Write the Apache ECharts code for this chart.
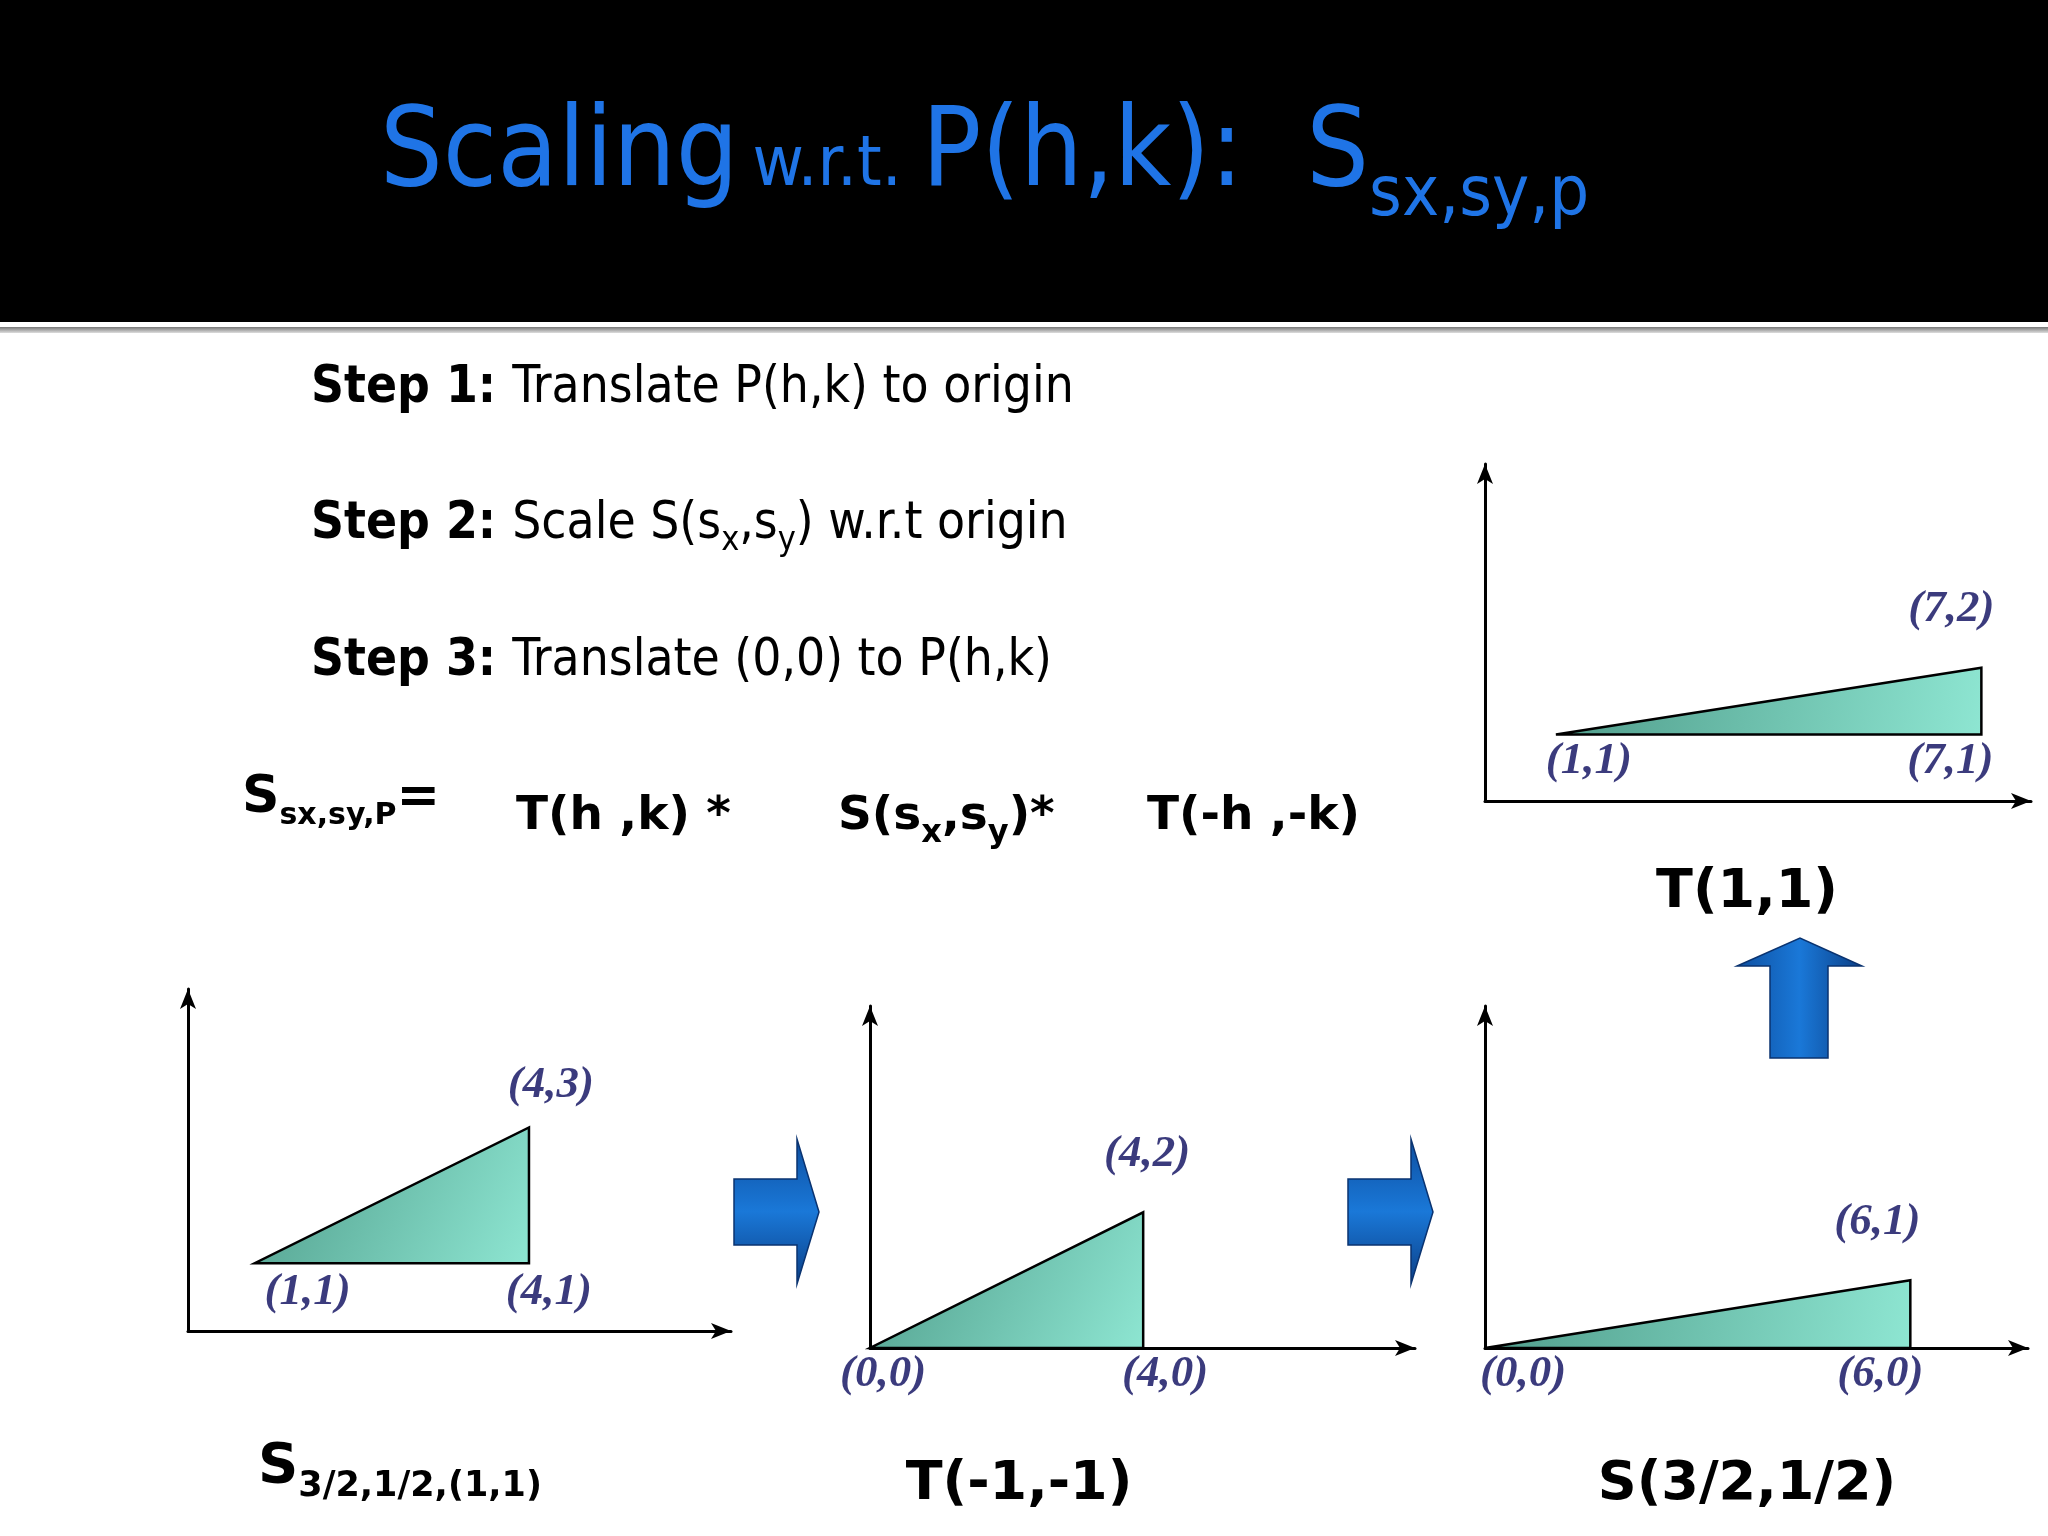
<!DOCTYPE html>
<html><head><meta charset="utf-8">
<script src="https://cdn.jsdelivr.net/npm/echarts@6/dist/echarts.min.js"></script>
<style>html,body{margin:0;padding:0;background:#fff}#c{width:2048px;height:1536px}</style>
</head><body><div id="c"></div>
<script>
// ---- data ----
const triOriginal = [[1,1],[4,1],[4,3]];
const triTranslated = [[0,0],[4,0],[4,2]];
const triScaled = [[0,0],[6,0],[6,1]];
const triFinal = [[1,1],[7,1],[7,2]];
const labelsOriginal = ['(1,1)','(4,1)','(4,3)'];
const labelsTranslated = ['(0,0)','(4,0)','(4,2)'];
const labelsScaled = ['(0,0)','(6,0)','(6,1)'];
const labelsFinal = ['(1,1)','(7,1)','(7,2)'];
const captions = ['T(-1,-1)','S(3/2,1/2)','T(1,1)'];

// ---- styles/layout ----
const grids = [
  {left:188, top:989, width:543, height:342},
  {left:870, top:1006, width:545, height:342},
  {left:1485, top:1006, width:543, height:342},
  {left:1485, top:464, width:546, height:337}
];
const axRanges = [[0.27,6.21,0,5.04],[0,7.98,0,5.04],[0,7.66,0,5.04],[0,7.7,0,5.06]];
const lblOffsets = [
  [[53,29],[20,29],[22,-42]],
  [[13,26],[22,26],[4,-58]],
  [[38,26],[-30,26],[-33,-58]],
  [[33,27],[-31,27],[-30,-58]]
];
const tris=[triOriginal,triTranslated,triScaled,triFinal];
const lbls=[labelsOriginal,labelsTranslated,labelsScaled,labelsFinal];

const ASC=0.76;
const ctx=document.createElement('canvas').getContext('2d');
function runs(x,y,items,g){
  let cx=x;
  items.forEach(r=>{
    const font=`${r.style||'normal'} ${r.weight||'normal'} ${r.size}px ${r.family}`;
    ctx.font=font;
    g.push({type:'text',x:cx,y:y+(r.dy||0)-ASC*r.size,style:{text:r.t,font:font,fill:r.color||'#000',textAlign:'left'}});
    cx+=ctx.measureText(r.t).width+(r.gap||0);
  });
}
const G=[];
G.push({type:'rect',shape:{x:0,y:0,width:2048,height:322},style:{fill:'#000'}});
G.push({type:'rect',shape:{x:0,y:327,width:2048,height:6},style:{fill:new echarts.graphic.LinearGradient(0,0,0,1,[{offset:0,color:'#777'},{offset:1,color:'#ddd'}])}});
const TF="'DejaVu Sans Condensed','DejaVu Sans',sans-serif";
const blue='#1f74e6';
runs(380,185,[
 {t:'Scaling',size:110,family:TF,color:blue,gap:14},
 {t:'w.r.t. ',size:70,family:TF,color:blue},
 {t:'P(h,k):  S',size:110,family:TF,color:blue},
 {t:'sx,sy,p',size:70,family:TF,color:blue,dy:30}
],G);
const SF="'DejaVu Sans Condensed','Liberation Sans',sans-serif";
runs(311,402,[{t:'Step 1: ',size:51,weight:'bold',family:SF},{t:'Translate P(h,k) to origin',size:51,family:SF}],G);
runs(311,538,[{t:'Step 2: ',size:51,weight:'bold',family:SF},{t:'Scale S(s',size:51,family:SF},{t:'x',size:34,family:SF,dy:12},{t:',s',size:51,family:SF},{t:'y',size:34,family:SF,dy:12},{t:') w.r.t origin',size:51,family:SF}],G);
runs(311,675,[{t:'Step 3: ',size:51,weight:'bold',family:SF},{t:'Translate (0,0) to P(h,k)',size:51,family:SF}],G);
const BF="'DejaVu Sans',Verdana,sans-serif";
runs(242,812,[{t:'S',size:52,weight:'bold',family:BF},{t:'sx,sy,P',size:30,weight:'bold',family:BF,dy:12},{t:'=',size:52,weight:'bold',family:BF}],G);
runs(516,829,[{t:'T(h ,k) *',size:47,weight:'bold',family:BF}],G);
runs(838,829,[{t:'S(s',size:47,weight:'bold',family:BF},{t:'x',size:32,weight:'bold',family:BF,dy:13},{t:',s',size:47,weight:'bold',family:BF},{t:'y',size:32,weight:'bold',family:BF,dy:13},{t:')*',size:47,weight:'bold',family:BF}],G);
runs(1147,829,[{t:'T(-h ,-k)',size:47,weight:'bold',family:BF}],G);
runs(258,1482,[{t:'S',size:56,weight:'bold',family:BF},{t:'3/2,1/2,(1,1)',size:35,weight:'bold',family:BF,dy:14}],G);
[[captions[0],1019,1499],[captions[1],1747,1499],[captions[2],1747,907]].forEach(c=>{
  G.push({type:'text',x:c[1],y:c[2]-ASC*54,style:{text:c[0],font:`bold 54px ${BF}`,fill:'#000',textAlign:'center'}});
});
const arrowFill=()=>new echarts.graphic.LinearGradient(0,0,0,1,[{offset:0,color:'#0d4fa0'},{offset:0.5,color:'#1a78d8'},{offset:1,color:'#0b3f86'}]);
function rightArrow(x0){
  G.push({type:'polygon',shape:{points:[[x0,1179],[x0+63,1179],[x0+63,1139],[x0+85,1212],[x0+63,1284],[x0+63,1245],[x0,1245]]},style:{fill:arrowFill(),stroke:'#0a3370',lineWidth:1.5}});
}
rightArrow(734);rightArrow(1348);
G.push({type:'polygon',shape:{points:[[1770,1058],[1770,966],[1737,966],[1800,938],[1862,966],[1828,966],[1828,1058]]},style:{fill:new echarts.graphic.LinearGradient(0,0,1,0,[{offset:0,color:'#0d4fa0'},{offset:0.5,color:'#1a78d8'},{offset:1,color:'#0b3f86'}]),stroke:'#0a3370',lineWidth:1.5}});

const axisLine={show:true,onZero:false,symbol:['none','arrow'],symbolSize:[12,20],lineStyle:{color:'#000',width:3}};
const xAxis=[],yAxis=[],series=[];
grids.forEach((g,i)=>{
  const r=axRanges[i];
  xAxis.push({type:'value',gridIndex:i,min:r[0],max:r[1],axisLine,axisTick:{show:false},axisLabel:{show:false},splitLine:{show:false}});
  yAxis.push({type:'value',gridIndex:i,min:r[2],max:r[3],axisLine,axisTick:{show:false},axisLabel:{show:false},splitLine:{show:false}});
  series.push({type:'custom',xAxisIndex:i,yAxisIndex:i,data:[0],renderItem:(p,api)=>({type:'polygon',shape:{points:tris[i].map(v=>api.coord(v))},
    style:{fill:new echarts.graphic.LinearGradient(0,0,1,1,[{offset:0,color:'#4f9c8a'},{offset:1,color:'#8ee6d2'}]),stroke:'#000',lineWidth:2.5}})});
  series.push({type:'scatter',xAxisIndex:i,yAxisIndex:i,symbolSize:0,silent:true,
    data:tris[i].map((v,j)=>({value:v,label:{show:true,formatter:lbls[i][j],position:'inside',offset:lblOffsets[i][j]}})),
    label:{color:'#0a0a5c',fontFamily:"'Liberation Serif','DejaVu Serif',serif",fontStyle:'italic',fontWeight:'bold',fontSize:45}});
});
const chart=echarts.init(document.getElementById('c'));
chart.setOption({animation:false,grid:grids,xAxis,yAxis,series,graphic:G});
</script></body></html>
